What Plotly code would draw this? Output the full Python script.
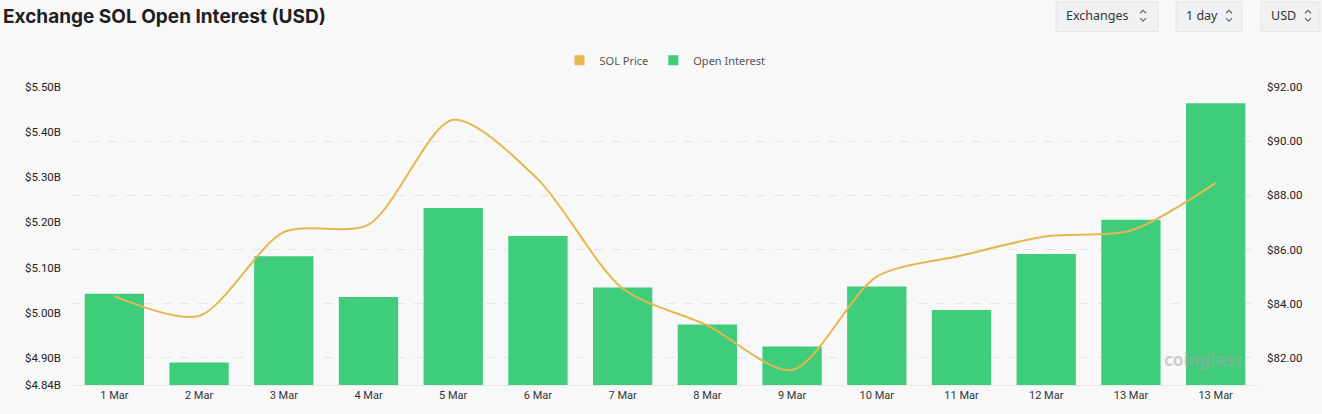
import plotly.graph_objects as go

dates = ["1 Mar", "2 Mar", "3 Mar", "4 Mar", "5 Mar", "6 Mar", "7 Mar",
         "8 Mar", "9 Mar", "10 Mar", "11 Mar", "12 Mar", "13 Mar", "13 Mar"]
open_interest_b = [5.042, 4.890, 5.125, 5.035, 5.232, 5.170, 5.056,
                   4.974, 4.925, 5.058, 5.006, 5.130, 5.206, 5.464]
sol_price = [84.28, 83.55, 86.64, 86.92, 90.79, 88.59, 84.56,
             83.20, 81.55, 85.00, 85.78, 86.49, 86.70, 88.46]
left_ticks = [4.84, 4.90, 5.00, 5.10, 5.20, 5.30, 5.40, 5.50]
left_ticktext = ["$%.2fB" % v for v in left_ticks]
right_ticks = [82, 84, 86, 88, 90, 92]
right_ticktext = ["$%.2f" % v for v in right_ticks]

GREEN = "#3fcd7c"
GOLD = "#e6b74e"
BG = "#f8f8f8"
xs = list(range(len(dates)))

fig = go.Figure()
fig.add_trace(go.Bar(x=xs, y=open_interest_b, marker=dict(color=GREEN, line=dict(width=0)),
                     yaxis="y", showlegend=False, name="Open Interest"))
fig.add_trace(go.Scatter(x=xs, y=sol_price, mode="lines", yaxis="y2",
                         line=dict(color=GOLD, width=2, shape="spline", smoothing=0.8),
                         showlegend=False, name="SOL Price"))
# legend-only entries with square swatches
fig.add_trace(go.Scatter(x=[None], y=[None], mode="markers", name="SOL Price",
                         marker=dict(symbol="square", size=10, color=GOLD)))
fig.add_trace(go.Scatter(x=[None], y=[None], mode="markers", name="Open Interest",
                         marker=dict(symbol="square", size=10, color=GREEN)))

fig.update_layout(
    width=1322, height=414,
    paper_bgcolor=BG, plot_bgcolor=BG,
    margin=dict(l=72, r=64, t=87, b=26),
    font=dict(family="Roboto, sans-serif", size=11, color="#333"),
    bargap=0.3,
    title=dict(text="<b>Exchange SOL Open Interest (USD)</b>", xref="container", yref="container",
               x=3/1322, xanchor="left", y=1-16/414, yanchor="middle",
               font=dict(family="Inter, Roboto, sans-serif", size=19, color="#1f1f1f")),
    legend=dict(orientation="h", x=0.5, xanchor="center", y=1 + (87-60)/301, yanchor="middle",
                font=dict(family="Noto Sans, sans-serif", size=11, color="#555"),
                bgcolor="rgba(0,0,0,0)", itemwidth=30, traceorder="normal"),
    xaxis=dict(tickvals=xs, ticktext=dates, range=[-0.5, len(dates) - 0.5],
               showgrid=False, zeroline=False, showline=True, linecolor="#e8e8e8",
               ticks="", tickfont=dict(size=11, color="#333")),
    yaxis=dict(range=[4.84, 5.50], tickvals=left_ticks, ticktext=left_ticktext,
               showgrid=False, zeroline=False, ticks="", ticklabelstandoff=10,
               tickfont=dict(size=11.5, color="#222")),
    yaxis2=dict(range=[81, 92], tickvals=right_ticks, ticktext=right_ticktext,
                overlaying="y", side="right", showgrid=True, gridcolor="#e6e6e6",
                griddash="dash", gridwidth=1, zeroline=False, ticks="",
                ticklabelstandoff=8, tickfont=dict(size=11.5, color="#222")),
)

# control buttons (top right)
def px_x(p):
    return (p - 72) / 1186

def px_y(p):
    return 1 + (87 - p) / 301

buttons = [("Exchanges", 1056, 1158, 1143), ("1 day", 1176, 1242, 1229), ("USD", 1261, 1320, 1308)]
for label, x0, x1, cx in buttons:
    fig.add_shape(type="rect", xref="paper", yref="paper",
                  x0=px_x(x0), x1=px_x(x1), y0=px_y(31), y1=px_y(1),
                  fillcolor="#f0f1f3", line=dict(color="#e3e4e7", width=1), layer="above")
    fig.add_annotation(xref="paper", yref="paper", x=px_x(x0 + 8), y=px_y(15),
                       xanchor="left", yanchor="middle", showarrow=False,
                       text=label, font=dict(family="Noto Sans, sans-serif", size=12.5, color="#333"))
    up = "M %f,%f L %f,%f L %f,%f" % (px_x(cx - 3), px_y(12.5), px_x(cx), px_y(9.5), px_x(cx + 3), px_y(12.5))
    dn = "M %f,%f L %f,%f L %f,%f" % (px_x(cx - 3), px_y(17.5), px_x(cx), px_y(20.5), px_x(cx + 3), px_y(17.5))
    for p in (up, dn):
        fig.add_shape(type="path", xref="paper", yref="paper", path=p,
                      line=dict(color="#666", width=1.2), layer="above")

# watermark
fig.add_annotation(xref="paper", yref="paper", x=px_x(1245), y=px_y(362),
                   xanchor="right", yanchor="middle", showarrow=False,
                   text="<b>coinglass</b>",
                   font=dict(family="Noto Sans, sans-serif", size=17, color="rgba(165,165,165,0.5)"))

fig.write_html("out.html", config={"displayModeBar": False},
               post_script="document.body.style.margin='0';document.body.style.overflow='hidden';")
